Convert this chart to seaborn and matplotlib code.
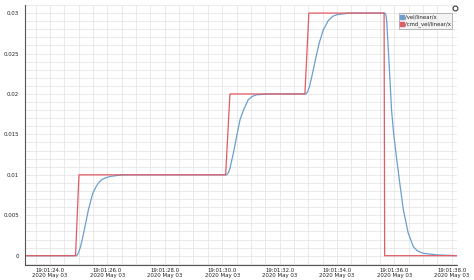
import matplotlib
matplotlib.use("Agg")
import matplotlib.pyplot as plt
from matplotlib.ticker import MultipleLocator, FixedLocator, FixedFormatter
from matplotlib.lines import Line2D
import seaborn as sns
import pandas as pd

# ---- data (time = seconds after 19:01:00) ----
cmd_t = [23.13, 24.89, 25.01, 30.12, 30.27, 32.88, 33.02, 35.64, 35.66, 38.18]
cmd_v = [0.0, 0.0, 0.01, 0.01, 0.02, 0.02, 0.03, 0.03, 0.0, 0.0]

vel_t = [23.13, 24.93, 25.0, 25.07, 25.15, 25.22, 25.34, 25.49, 25.6, 25.69, 25.8,
         25.92, 26.1, 26.3, 26.55,
         30.16, 30.22, 30.27, 30.39, 30.5, 30.62, 30.74, 30.91, 31.05, 31.2, 31.67,
         32.92, 32.98, 33.04, 33.15, 33.27, 33.38, 33.52, 33.7, 33.85, 33.99, 34.45,
         35.67, 35.7, 35.73, 35.82, 35.9, 35.97, 36.08, 36.2, 36.31, 36.48, 36.66,
         36.8, 37.0, 37.47, 38.18]
vel_v = [0.0, 0.0, 0.0004, 0.0012, 0.0024, 0.0036, 0.0057, 0.0077, 0.0085, 0.009, 0.0094,
         0.0096, 0.0098, 0.0099, 0.01,
         0.01, 0.0103, 0.0108, 0.0127, 0.0147, 0.0168, 0.018, 0.0193, 0.0197, 0.0199, 0.02,
         0.02, 0.0203, 0.0209, 0.0226, 0.0246, 0.0263, 0.0279, 0.0291, 0.0296, 0.0298, 0.03,
         0.03, 0.0298, 0.0291, 0.0234, 0.018, 0.0152, 0.0119, 0.0086, 0.0057, 0.0028, 0.0011,
         0.0006, 0.0003, 0.0001, 0.0]

series_names = ["/vel/linear/x", "/cmd_vel/linear/x"]
series_colors = ["#6a9fd0", "#e05c64"]

x_ticks = [24, 26, 28, 30, 32, 34, 36, 38]
x_tick_labels = ["19:01:24.0\n2020 May 03", "19:01:26.0\n2020 May 03",
                 "19:01:28.0\n2020 May 03", "19:01:30.0\n2020 May 03",
                 "19:01:32.0\n2020 May 03", "19:01:34.0\n2020 May 03",
                 "19:01:36.0\n2020 May 03", "19:01:38.0\n2020 May 03"]
y_ticks = [0, 0.005, 0.01, 0.015, 0.02, 0.025, 0.03]
y_tick_labels = ["0", "0.005", "0.01", "0.015", "0.02", "0.025", "0.03"]

# ---- build long table ----
df = pd.concat([
    pd.DataFrame({"t": vel_t, "v": vel_v, "series": series_names[0]}),
    pd.DataFrame({"t": cmd_t, "v": cmd_v, "series": series_names[1]}),
], ignore_index=True)

sns.set_style("white")
plt.rcParams["font.family"] = ["DejaVu Sans"]

W, H = 474, 280
fig = plt.figure(figsize=(W / 100, H / 100), dpi=100)
ax = fig.add_axes([25 / W, 15 / H, (457 - 25) / W, (265 - 5) / H])

sns.lineplot(data=df, x="t", y="v", hue="series", hue_order=series_names,
             palette=series_colors, linewidth=0.9, estimator=None, sort=False,
             legend=False, ax=ax)

ax.set_xlim(23.13, 38.18)
ax.set_ylim(-0.00115, 0.031)

ax.xaxis.set_major_locator(FixedLocator(x_ticks))
ax.xaxis.set_major_formatter(FixedFormatter(x_tick_labels))
ax.xaxis.set_minor_locator(MultipleLocator(0.5))
ax.yaxis.set_major_locator(FixedLocator(y_ticks))
ax.yaxis.set_major_formatter(FixedFormatter(y_tick_labels))
ax.yaxis.set_minor_locator(MultipleLocator(0.001))

ax.grid(True, which="both", color="#e6e6e6", linewidth=0.6)
ax.set_axisbelow(True)
ax.set_xlabel("")
ax.set_ylabel("")

for s in ["top", "right"]:
    ax.spines[s].set_visible(False)
for s in ["left", "bottom"]:
    ax.spines[s].set_color("#555555")
    ax.spines[s].set_linewidth(0.8)

ax.tick_params(axis="both", which="major", labelsize=3.9, colors="#555555",
               labelcolor="#222222", width=0.6, direction="out")
ax.tick_params(axis="y", which="major", length=3.5, pad=1)
ax.tick_params(axis="x", which="major", length=2, pad=0.5)
ax.tick_params(axis="both", which="minor", colors="#555555", length=2,
               width=0.5, direction="inout")
for lab in ax.get_xticklabels():
    lab.set_linespacing(0.95)

handles = [Line2D([0], [0], marker="s", linestyle="none", markersize=2.2,
                  markerfacecolor=c, markeredgecolor=c) for c in series_colors]
leg = fig.legend(handles, series_names, loc="upper left",
                 bbox_to_anchor=(399 / W, 1 - 13 / H), fontsize=3.9,
                 frameon=True, fancybox=False, handlelength=0.5,
                 handletextpad=0.2, borderpad=0.35, labelspacing=0.35,
                 borderaxespad=0)
leg.get_frame().set_facecolor("#f0f0f0")
leg.get_frame().set_edgecolor("#9a9a9a")
leg.get_frame().set_linewidth(0.6)

# small resize handle drawn in the top-right corner of the view
fig.add_artist(Line2D([455 / W], [1 - 8 / H], marker="o", markersize=3.5,
                      markerfacecolor="white", markeredgecolor="#222222",
                      markeredgewidth=0.7, transform=fig.transFigure))

fig.savefig("out.png", dpi=100)
